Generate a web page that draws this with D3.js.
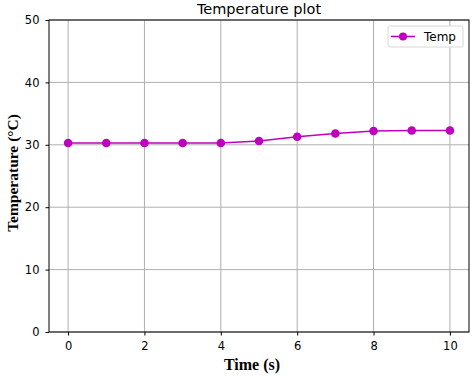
<!DOCTYPE html>
<html><head><meta charset="utf-8">
<script src="https://cdn.jsdelivr.net/npm/d3@7"></script>
<style>body{margin:0;background:#fff}svg{display:block}</style>
</head><body>
<svg id="c" width="474" height="382"></svg>
<script>
const times = [0,1,2,3,4,5,6,7,8,9,10];
const temps = [30.3,30.3,30.3,30.3,30.3,30.6,31.3,31.8,32.2,32.3,32.3];
const xTicks = [0,2,4,6,8,10];
const yTicks = [0,10,20,30,40,50];
const seriesName = "Temp";
const titleText = "Temperature plot";
const xLabel = "Time (s)";
const yLabel = "Temperature (°C)";

const svg = d3.select("#c");
const L=49, R=469, T=20, B=332;
const x = d3.scaleLinear().domain([-0.5,10.5]).range([L,R]);
const y = d3.scaleLinear().domain([0,50]).range([B,T]);
const color = "#bf00bf";
const tickFont = "DejaVu Sans";

// grid
svg.append("g").selectAll("line").data(xTicks).join("line")
  .attr("x1",d=>x(d)).attr("x2",d=>x(d)).attr("y1",T).attr("y2",B)
  .attr("stroke","#b0b0b0").attr("stroke-width",1);
svg.append("g").selectAll("line").data(yTicks).join("line")
  .attr("y1",d=>y(d)).attr("y2",d=>y(d)).attr("x1",L).attr("x2",R)
  .attr("stroke","#b0b0b0").attr("stroke-width",1);

// axes
const xa = svg.append("g").attr("transform",`translate(0,${B})`)
  .call(d3.axisBottom(x).tickValues(xTicks).tickSize(3.5).tickPadding(6).tickSizeOuter(0));
const ya = svg.append("g").attr("transform",`translate(${L},0)`)
  .call(d3.axisLeft(y).tickValues(yTicks).tickSize(3.5).tickPadding(6).tickSizeOuter(0));
[xa,ya].forEach(a=>{
  a.select(".domain").remove();
  a.selectAll("text").attr("font-family",tickFont).attr("font-size","11.5px").attr("fill","#000");
  a.selectAll("line").attr("stroke","#000");
});

// frame
svg.append("rect").attr("x",L).attr("y",T).attr("width",R-L).attr("height",B-T)
  .attr("fill","none").attr("stroke","#000").attr("stroke-width",1);

// line + markers
const line = d3.line().x((d,i)=>x(times[i])).y(d=>y(d));
svg.append("path").datum(temps).attr("d",line).attr("fill","none")
  .attr("stroke",color).attr("stroke-width",1.6);
svg.append("g").selectAll("circle").data(temps).join("circle")
  .attr("cx",(d,i)=>x(times[i])).attr("cy",d=>y(d)).attr("r",4.3).attr("fill",color);

// title
svg.append("text").attr("x",(L+R)/2).attr("y",14).attr("text-anchor","middle")
  .attr("font-family",tickFont).attr("font-size","14.5px").text(titleText);

// axis labels
svg.append("text").attr("x",252).attr("y",370).attr("text-anchor","middle")
  .attr("font-family","Liberation Serif").attr("font-weight","bold").attr("font-size","16px").text(xLabel);
svg.append("text").attr("transform",`translate(18,${173}) rotate(-90)`).attr("text-anchor","middle")
  .attr("font-family","Liberation Serif").attr("font-weight","bold").attr("font-size","15.5px").text(yLabel);

// legend
const lg = svg.append("g");
lg.append("rect").attr("x",388).attr("y",26).attr("width",75).attr("height",21).attr("rx",2)
  .attr("fill","#fff").attr("stroke","#d8d8d8").attr("stroke-width",1);
lg.append("line").attr("x1",391).attr("x2",415).attr("y1",36.5).attr("y2",36.5)
  .attr("stroke",color).attr("stroke-width",1.6);
lg.append("circle").attr("cx",403).attr("cy",36.5).attr("r",4).attr("fill",color);
lg.append("text").attr("x",424).attr("y",41).attr("font-family",tickFont).attr("font-size","12px").text(seriesName);
</script>
</body></html>
